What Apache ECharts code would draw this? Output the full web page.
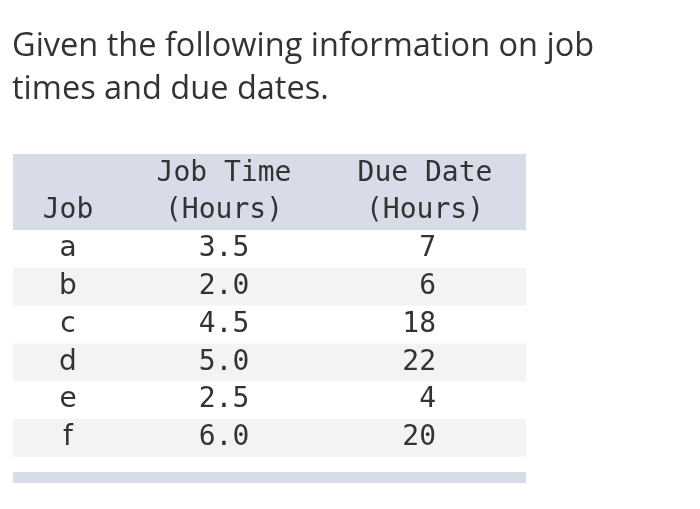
<!DOCTYPE html>
<html><head><meta charset="utf-8">
<script src="https://cdn.jsdelivr.net/npm/echarts@6/dist/echarts.min.js"></script>
<style>html,body{margin:0;padding:0;background:#fff}#c{width:700px;height:509px}</style>
</head><body><div id="c"></div>
<script>
const titleLines = ["Given the following information on job", "times and due dates."];
const headerTop = ["", "Job Time", "Due Date"];
const headerBottom = ["Job", "(Hours)", "(Hours)"];
const jobs = ["a", "b", "c", "d", "e", "f"];
const jobTimes = ["3.5", "2.0", "4.5", "5.0", "2.5", "6.0"];
const dueDates = ["7", "6", "18", "22", "4", "20"];

const chart = echarts.init(document.getElementById('c'));
const mono = "'DejaVu Sans Mono', monospace";
const F = '28px ';
const g = [];
titleLines.forEach((t, i) => g.push({type:'text', x:12, y:47 + i*43,
  style:{text:t, font:"32.5px 'Open Sans', 'Noto Sans', sans-serif", fill:'#333', verticalAlign:'middle'}}));
const X0 = 13, X1 = 526, HT = 154, HB = 230, RH = 37.8;
g.push({type:'rect', shape:{x:X0, y:HT, width:X1-X0, height:HB-HT}, style:{fill:'#d8dce8'}});
const colX = [68, 224, 425];
headerTop.forEach((t, i) => g.push({type:'text', x:colX[i], y:174, style:{text:t, font:F+mono, fill:'#333', align:'center', verticalAlign:'middle'}}));
headerBottom.forEach((t, i) => g.push({type:'text', x:colX[i], y:211, style:{text:t, font:F+mono, fill:'#333', align:'center', verticalAlign:'middle'}}));
jobs.forEach((j, r) => {
  const y = HB + r*RH;
  if (r % 2 === 1) g.push({type:'rect', shape:{x:X0, y:y, width:X1-X0, height:RH}, style:{fill:'#f3f3f3'}});
  const cy = y + RH/2;
  g.push({type:'text', x:colX[0], y:cy, style:{text:j, font:F+"'DejaVu Sans', sans-serif", fill:'#333', align:'center', verticalAlign:'middle'}});
  g.push({type:'text', x:colX[1], y:cy, style:{text:jobTimes[r], font:F+mono, fill:'#333', align:'center', verticalAlign:'middle'}});
  g.push({type:'text', x:436, y:cy, style:{text:dueDates[r], font:F+mono, fill:'#333', align:'right', verticalAlign:'middle'}});
});
g.push({type:'rect', shape:{x:X0, y:472, width:X1-X0, height:11}, style:{fill:'#d8dce8'}});
chart.setOption({animation:false, graphic:g});
</script></body></html>
